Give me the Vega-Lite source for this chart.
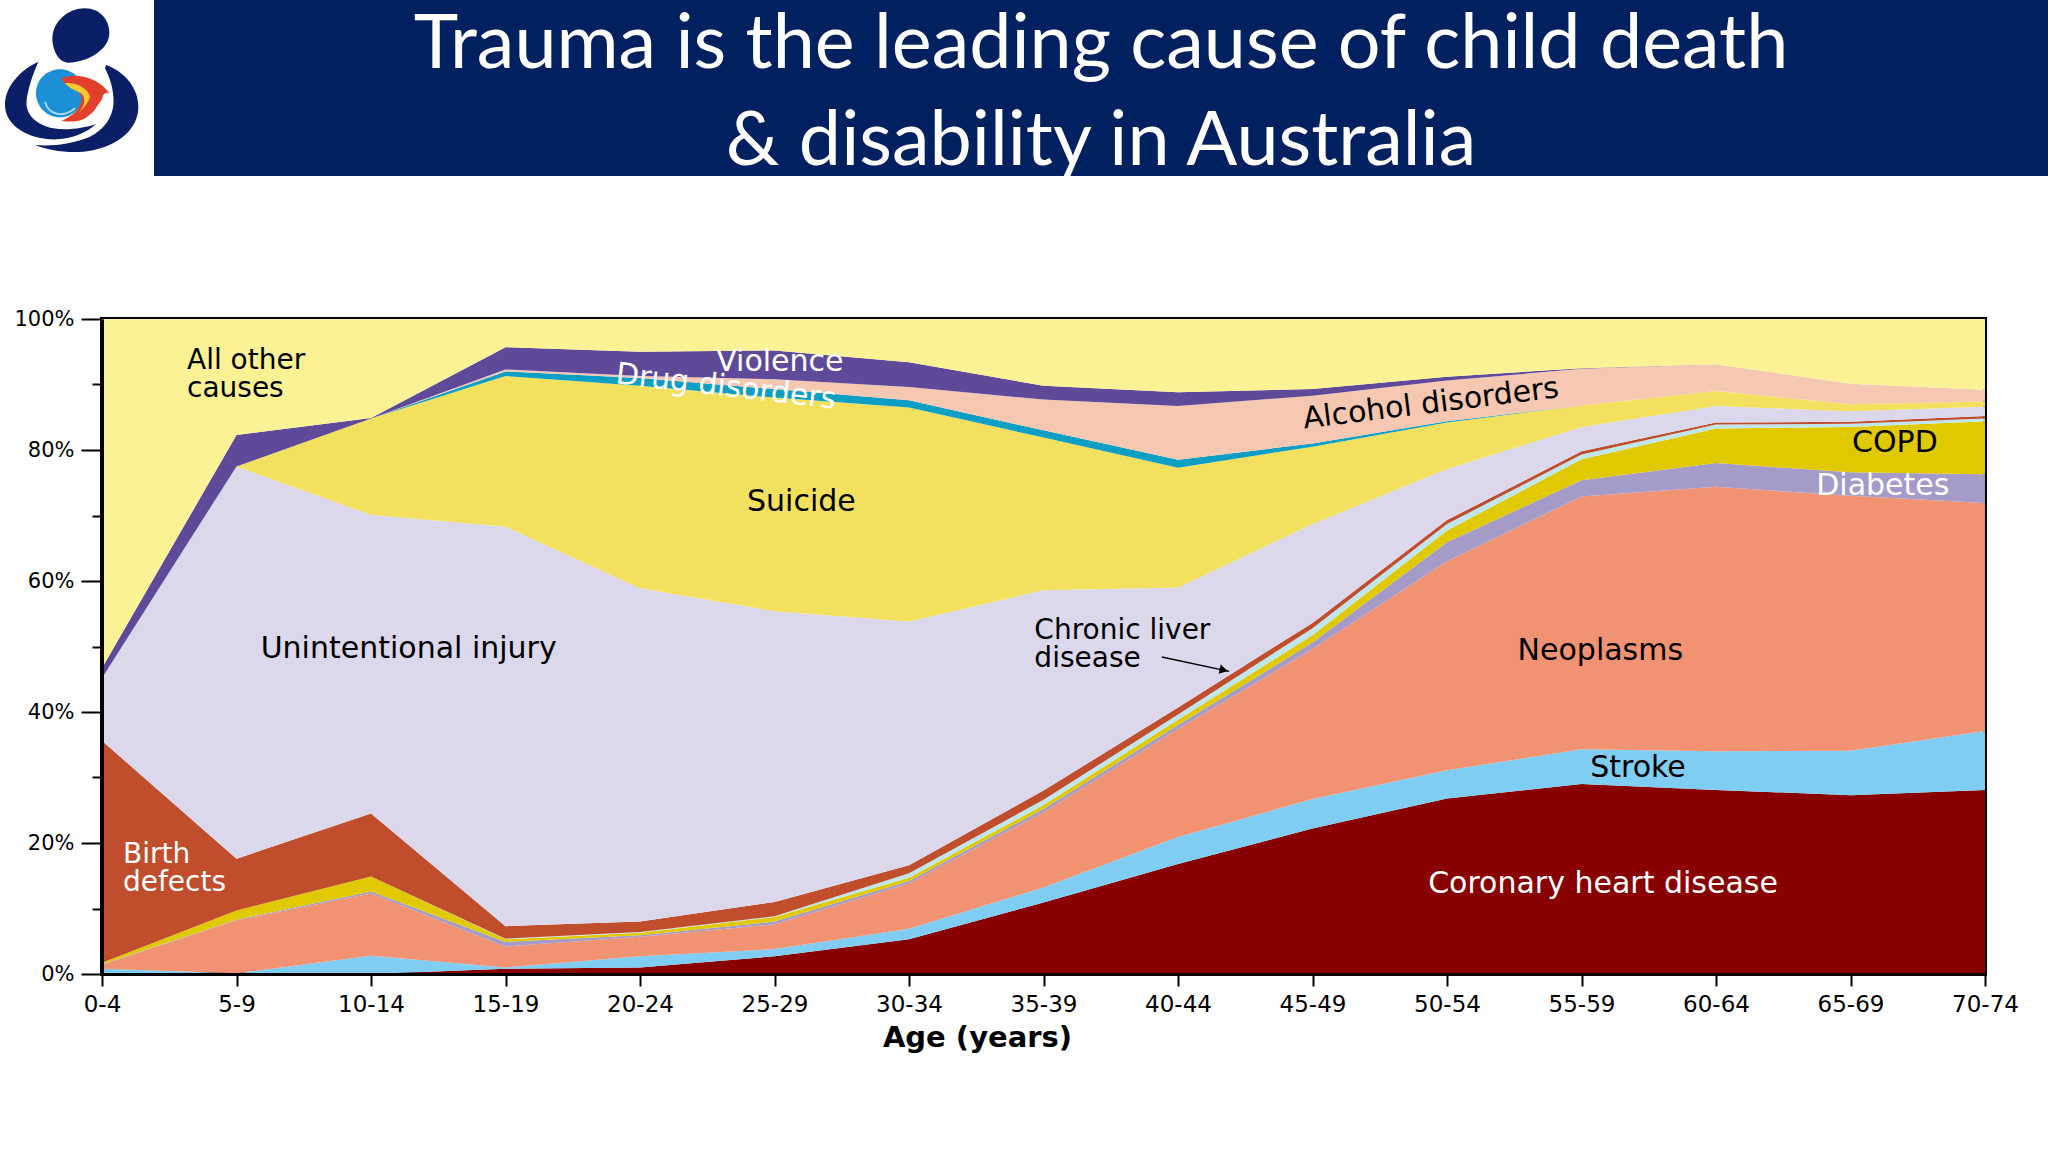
{
  "$schema": "https://vega.github.io/schema/vega-lite/v6.json",
  "padding": 0,
  "background": "white",
  "config": {"view": {"stroke": null}},
  "bounds": "flush",
  "spacing": 319,
  "vconcat": [
    {
      "bounds": "flush",
      "spacing": 0,
      "hconcat": [
        {
          "width": 154, "height": 176,
          "data": {"values": [{"part": "logo"}]},
          "layer": [
            {"mark": {"type": "point", "filled": true, "size": 23716, "opacity": 1, "color": "#0b1f66", "shape": "M.104 -1.035 C.299 -1.035 .42 -.883 .42 -.71 C.42 -.494 .126 -.329 -.113 -.329 C-.242 -.329 -.32 -.494 -.32 -.645 C-.32 -.861 -.113 -1.035 .104 -1.035Z"}},
            {"mark": {"type": "point", "filled": true, "size": 23716, "opacity": 1, "color": "#0b1f66", "shape": "M-.502 -.342 C-.74 -.234 -.935 -.017 -.935 .221 C-.935 .502 -.61 .675 -.264 .667 C-.048 .658 .147 .567 .247 .468 C.082 .524 -.134 .554 -.307 .524 C-.524 .481 -.675 .351 -.654 .156 C-.632 -.017 -.567 -.19 -.502 -.342Z"}},
            {"mark": {"type": "point", "filled": true, "size": 23716, "opacity": 1, "color": "#0b1f66", "shape": "M.377 -.299 C.623 -.212 .797 .004 .797 .242 C.797 .567 .472 .784 .082 .827 C-.134 .848 -.394 .805 -.545 .74 C-.307 .762 -.048 .719 .169 .632 C.385 .524 .494 .329 .472 .113 C.463 -.039 .407 -.169 .364 -.255Z"}},
            {"mark": {"type": "point", "filled": true, "size": 23716, "opacity": 1, "color": "#1d8fd6", "shape": "M-.533 .069 A.312 .312 0 1 1 .091 .069 A.312 .312 0 1 1 -.533 .069Z"}},
            {"mark": {"type": "point", "filled": false, "size": 23716, "opacity": 1, "color": "#a5dcf5", "strokeWidth": 2, "shape": "M-.416 .177 C-.372 .351 -.177 .394 -.026 .264"}},
            {"mark": {"type": "point", "filled": true, "size": 23716, "opacity": 1, "color": "#e2402b", "shape": "M-.199 -.126 C-.004 -.212 .299 -.126 .42 .069 C.342 .048 .342 .091 .32 .156 C.277 .199 .234 .307 .16 .351 C.082 .437 -.069 .45 -.199 .424 C-.069 .372 .061 .264 .061 .134 C.061 .004 -.156 .004 -.199 -.126Z"}},
            {"mark": {"type": "point", "filled": true, "size": 23716, "opacity": 1, "color": "#f7c92f", "shape": "M-.156 -.061 C-.026 -.082 .147 .004 .169 .113 C.147 .199 .061 .286 .017 .329 C.134 .199 .104 .091 .039 .061 C-.048 .026 -.113 -.009 -.156 -.061Z"}}
          ]
        },
        {
          "width": 1894, "height": 176,
          "view": {"fill": "#002060", "stroke": null},
          "data": {"values": [
            {"line": 1, "text": "Trauma is the leading cause of child death"},
            {"line": 2, "text": "& disability in Australia"}
          ]},
          "mark": {"type": "text", "font": "Lato", "fontSize": 75.5, "color": "white", "baseline": "middle", "align": "center"},
          "encoding": {
            "text": {"field": "text"},
            "y": {"field": "line", "type": "ordinal", "axis": null, "scale": {"type": "point", "padding": 0, "domain": [1, 2], "range": [45, 142]}}
          }
        }
      ]
    },
    {
      "bounds": "flush",
      "spacing": 0,
      "hconcat": [
        {"width": 102, "height": 655, "data": {"values": []}, "mark": "rect"},
        {
          "width": 1883, "height": 655,
          "view": {"stroke": "black", "strokeWidth": 4},
          "layer": [
            {
              "data": {"values": [
                {"age":0,"cause":"Coronary heart disease","rank":1,"share":0},{"age":5,"cause":"Coronary heart disease","rank":1,"share":0},{"age":10,"cause":"Coronary heart disease","rank":1,"share":0},{"age":15,"cause":"Coronary heart disease","rank":1,"share":0.8},{"age":20,"cause":"Coronary heart disease","rank":1,"share":1},{"age":25,"cause":"Coronary heart disease","rank":1,"share":2.7},{"age":30,"cause":"Coronary heart disease","rank":1,"share":5.3},{"age":35,"cause":"Coronary heart disease","rank":1,"share":10.9},{"age":40,"cause":"Coronary heart disease","rank":1,"share":16.8},{"age":45,"cause":"Coronary heart disease","rank":1,"share":22.2},{"age":50,"cause":"Coronary heart disease","rank":1,"share":26.8},{"age":55,"cause":"Coronary heart disease","rank":1,"share":29},{"age":60,"cause":"Coronary heart disease","rank":1,"share":28.1},{"age":65,"cause":"Coronary heart disease","rank":1,"share":27.3},{"age":70,"cause":"Coronary heart disease","rank":1,"share":28.1},
                {"age":0,"cause":"Stroke","rank":2,"share":0.8},{"age":5,"cause":"Stroke","rank":2,"share":0.1},{"age":10,"cause":"Stroke","rank":2,"share":2.8},{"age":15,"cause":"Stroke","rank":2,"share":0.2},{"age":20,"cause":"Stroke","rank":2,"share":1.7},{"age":25,"cause":"Stroke","rank":2,"share":1.1},{"age":30,"cause":"Stroke","rank":2,"share":1.6},{"age":35,"cause":"Stroke","rank":2,"share":2.3},{"age":40,"cause":"Stroke","rank":2,"share":4.1},{"age":45,"cause":"Stroke","rank":2,"share":4.5},{"age":50,"cause":"Stroke","rank":2,"share":4.3},{"age":55,"cause":"Stroke","rank":2,"share":5.3},{"age":60,"cause":"Stroke","rank":2,"share":5.9},{"age":65,"cause":"Stroke","rank":2,"share":6.8},{"age":70,"cause":"Stroke","rank":2,"share":9},
                {"age":0,"cause":"Neoplasms","rank":3,"share":0.6},{"age":5,"cause":"Neoplasms","rank":3,"share":8.1},{"age":10,"cause":"Neoplasms","rank":3,"share":9.5},{"age":15,"cause":"Neoplasms","rank":3,"share":3.2},{"age":20,"cause":"Neoplasms","rank":3,"share":3},{"age":25,"cause":"Neoplasms","rank":3,"share":3.8},{"age":30,"cause":"Neoplasms","rank":3,"share":6.9},{"age":35,"cause":"Neoplasms","rank":3,"share":11.5},{"age":40,"cause":"Neoplasms","rank":3,"share":16.5},{"age":45,"cause":"Neoplasms","rank":3,"share":22.9},{"age":50,"cause":"Neoplasms","rank":3,"share":31.9},{"age":55,"cause":"Neoplasms","rank":3,"share":38.6},{"age":60,"cause":"Neoplasms","rank":3,"share":40.4},{"age":65,"cause":"Neoplasms","rank":3,"share":38.9},{"age":70,"cause":"Neoplasms","rank":3,"share":34.8},
                {"age":0,"cause":"Diabetes","rank":4,"share":0.1},{"age":5,"cause":"Diabetes","rank":4,"share":0.1},{"age":10,"cause":"Diabetes","rank":4,"share":0.3},{"age":15,"cause":"Diabetes","rank":4,"share":0.7},{"age":20,"cause":"Diabetes","rank":4,"share":0.2},{"age":25,"cause":"Diabetes","rank":4,"share":0.4},{"age":30,"cause":"Diabetes","rank":4,"share":0.4},{"age":35,"cause":"Diabetes","rank":4,"share":0.5},{"age":40,"cause":"Diabetes","rank":4,"share":0.6},{"age":45,"cause":"Diabetes","rank":4,"share":1},{"age":50,"cause":"Diabetes","rank":4,"share":2.9},{"age":55,"cause":"Diabetes","rank":4,"share":2.5},{"age":60,"cause":"Diabetes","rank":4,"share":3.6},{"age":65,"cause":"Diabetes","rank":4,"share":3.6},{"age":70,"cause":"Diabetes","rank":4,"share":4.4},
                {"age":0,"cause":"COPD","rank":5,"share":0.2},{"age":5,"cause":"COPD","rank":5,"share":1.4},{"age":10,"cause":"COPD","rank":5,"share":2.3},{"age":15,"cause":"COPD","rank":5,"share":0.4},{"age":20,"cause":"COPD","rank":5,"share":0.4},{"age":25,"cause":"COPD","rank":5,"share":0.7},{"age":30,"cause":"COPD","rank":5,"share":0.5},{"age":35,"cause":"COPD","rank":5,"share":0.6},{"age":40,"cause":"COPD","rank":5,"share":0.8},{"age":45,"cause":"COPD","rank":5,"share":1.1},{"age":50,"cause":"COPD","rank":5,"share":1.8},{"age":55,"cause":"COPD","rank":5,"share":3.2},{"age":60,"cause":"COPD","rank":5,"share":5.3},{"age":65,"cause":"COPD","rank":5,"share":6.9},{"age":70,"cause":"COPD","rank":5,"share":8.1},
                {"age":0,"cause":"Chronic liver disease","rank":6,"share":0},{"age":5,"cause":"Chronic liver disease","rank":6,"share":0},{"age":10,"cause":"Chronic liver disease","rank":6,"share":0},{"age":15,"cause":"Chronic liver disease","rank":6,"share":0.1},{"age":20,"cause":"Chronic liver disease","rank":6,"share":0.1},{"age":25,"cause":"Chronic liver disease","rank":6,"share":0.1},{"age":30,"cause":"Chronic liver disease","rank":6,"share":0.7},{"age":35,"cause":"Chronic liver disease","rank":6,"share":0.8},{"age":40,"cause":"Chronic liver disease","rank":6,"share":0.8},{"age":45,"cause":"Chronic liver disease","rank":6,"share":1.1},{"age":50,"cause":"Chronic liver disease","rank":6,"share":1},{"age":55,"cause":"Chronic liver disease","rank":6,"share":0.7},{"age":60,"cause":"Chronic liver disease","rank":6,"share":0.6},{"age":65,"cause":"Chronic liver disease","rank":6,"share":0.5},{"age":70,"cause":"Chronic liver disease","rank":6,"share":0.4},
                {"age":0,"cause":"Birth defects","rank":7,"share":33.9},{"age":5,"cause":"Birth defects","rank":7,"share":7.9},{"age":10,"cause":"Birth defects","rank":7,"share":9.6},{"age":15,"cause":"Birth defects","rank":7,"share":1.9},{"age":20,"cause":"Birth defects","rank":7,"share":1.6},{"age":25,"cause":"Birth defects","rank":7,"share":2.2},{"age":30,"cause":"Birth defects","rank":7,"share":1.2},{"age":35,"cause":"Birth defects","rank":7,"share":1.4},{"age":40,"cause":"Birth defects","rank":7,"share":1.1},{"age":45,"cause":"Birth defects","rank":7,"share":0.8},{"age":50,"cause":"Birth defects","rank":7,"share":0.6},{"age":55,"cause":"Birth defects","rank":7,"share":0.5},{"age":60,"cause":"Birth defects","rank":7,"share":0.3},{"age":65,"cause":"Birth defects","rank":7,"share":0.3},{"age":70,"cause":"Birth defects","rank":7,"share":0.4},
                {"age":0,"cause":"Unintentional injury","rank":8,"share":9.6},{"age":5,"cause":"Unintentional injury","rank":8,"share":59.9},{"age":10,"cause":"Unintentional injury","rank":8,"share":45.6},{"age":15,"cause":"Unintentional injury","rank":8,"share":61},{"age":20,"cause":"Unintentional injury","rank":8,"share":50.9},{"age":25,"cause":"Unintentional injury","rank":8,"share":44.4},{"age":30,"cause":"Unintentional injury","rank":8,"share":37.2},{"age":35,"cause":"Unintentional injury","rank":8,"share":30.6},{"age":40,"cause":"Unintentional injury","rank":8,"share":18.3},{"age":45,"cause":"Unintentional injury","rank":8,"share":15.1},{"age":50,"cause":"Unintentional injury","rank":8,"share":7.8},{"age":55,"cause":"Unintentional injury","rank":8,"share":3.7},{"age":60,"cause":"Unintentional injury","rank":8,"share":2.5},{"age":65,"cause":"Unintentional injury","rank":8,"share":1.6},{"age":70,"cause":"Unintentional injury","rank":8,"share":1.4},
                {"age":0,"cause":"Suicide","rank":9,"share":0},{"age":5,"cause":"Suicide","rank":9,"share":0},{"age":10,"cause":"Suicide","rank":9,"share":14.7},{"age":15,"cause":"Suicide","rank":9,"share":23},{"age":20,"cause":"Suicide","rank":9,"share":30.9},{"age":25,"cause":"Suicide","rank":9,"share":32.6},{"age":30,"cause":"Suicide","rank":9,"share":32.7},{"age":35,"cause":"Suicide","rank":9,"share":23.3},{"age":40,"cause":"Suicide","rank":9,"share":18.3},{"age":45,"cause":"Suicide","rank":9,"share":11.8},{"age":50,"cause":"Suicide","rank":9,"share":7.1},{"age":55,"cause":"Suicide","rank":9,"share":3.3},{"age":60,"cause":"Suicide","rank":9,"share":2.3},{"age":65,"cause":"Suicide","rank":9,"share":1.1},{"age":70,"cause":"Suicide","rank":9,"share":0.8},
                {"age":0,"cause":"Drug disorders","rank":10,"share":0},{"age":5,"cause":"Drug disorders","rank":10,"share":0},{"age":10,"cause":"Drug disorders","rank":10,"share":0},{"age":15,"cause":"Drug disorders","rank":10,"share":0.7},{"age":20,"cause":"Drug disorders","rank":10,"share":1.2},{"age":25,"cause":"Drug disorders","rank":10,"share":1.3},{"age":30,"cause":"Drug disorders","rank":10,"share":1.1},{"age":35,"cause":"Drug disorders","rank":10,"share":1.1},{"age":40,"cause":"Drug disorders","rank":10,"share":1.2},{"age":45,"cause":"Drug disorders","rank":10,"share":0.5},{"age":50,"cause":"Drug disorders","rank":10,"share":0.2},{"age":55,"cause":"Drug disorders","rank":10,"share":0},{"age":60,"cause":"Drug disorders","rank":10,"share":0},{"age":65,"cause":"Drug disorders","rank":10,"share":0},{"age":70,"cause":"Drug disorders","rank":10,"share":0},
                {"age":0,"cause":"Alcohol disorders","rank":11,"share":0},{"age":5,"cause":"Alcohol disorders","rank":11,"share":0},{"age":10,"cause":"Alcohol disorders","rank":11,"share":0},{"age":15,"cause":"Alcohol disorders","rank":11,"share":0.3},{"age":20,"cause":"Alcohol disorders","rank":11,"share":0.3},{"age":25,"cause":"Alcohol disorders","rank":11,"share":1.5},{"age":30,"cause":"Alcohol disorders","rank":11,"share":2},{"age":35,"cause":"Alcohol disorders","rank":11,"share":4.7},{"age":40,"cause":"Alcohol disorders","rank":11,"share":8.2},{"age":45,"cause":"Alcohol disorders","rank":11,"share":7.3},{"age":50,"cause":"Alcohol disorders","rank":11,"share":6.2},{"age":55,"cause":"Alcohol disorders","rank":11,"share":5.6},{"age":60,"cause":"Alcohol disorders","rank":11,"share":4.1},{"age":65,"cause":"Alcohol disorders","rank":11,"share":3.1},{"age":70,"cause":"Alcohol disorders","rank":11,"share":1.8},
                {"age":0,"cause":"Violence","rank":12,"share":1.5},{"age":5,"cause":"Violence","rank":12,"share":4.8},{"age":10,"cause":"Violence","rank":12,"share":0.1},{"age":15,"cause":"Violence","rank":12,"share":3.4},{"age":20,"cause":"Violence","rank":12,"share":3.7},{"age":25,"cause":"Violence","rank":12,"share":4.4},{"age":30,"cause":"Violence","rank":12,"share":3.8},{"age":35,"cause":"Violence","rank":12,"share":2.1},{"age":40,"cause":"Violence","rank":12,"share":2.1},{"age":45,"cause":"Violence","rank":12,"share":1},{"age":50,"cause":"Violence","rank":12,"share":0.6},{"age":55,"cause":"Violence","rank":12,"share":0.1},{"age":60,"cause":"Violence","rank":12,"share":0},{"age":65,"cause":"Violence","rank":12,"share":0},{"age":70,"cause":"Violence","rank":12,"share":0},
                {"age":0,"cause":"All other causes","rank":13,"share":53.3},{"age":5,"cause":"All other causes","rank":13,"share":17.7},{"age":10,"cause":"All other causes","rank":13,"share":15.1},{"age":15,"cause":"All other causes","rank":13,"share":4.3},{"age":20,"cause":"All other causes","rank":13,"share":5},{"age":25,"cause":"All other causes","rank":13,"share":4.8},{"age":30,"cause":"All other causes","rank":13,"share":6.6},{"age":35,"cause":"All other causes","rank":13,"share":10.2},{"age":40,"cause":"All other causes","rank":13,"share":11.2},{"age":45,"cause":"All other causes","rank":13,"share":10.7},{"age":50,"cause":"All other causes","rank":13,"share":8.8},{"age":55,"cause":"All other causes","rank":13,"share":7.5},{"age":60,"cause":"All other causes","rank":13,"share":6.9},{"age":65,"cause":"All other causes","rank":13,"share":9.9},{"age":70,"cause":"All other causes","rank":13,"share":10.8}
              ]},
              "mark": {"type": "area", "interpolate": "linear", "opacity": 1},
              "encoding": {
                "x": {
                  "field": "age", "type": "quantitative",
                  "scale": {"domain": [0, 70], "nice": false, "zero": false},
                  "axis": {
                    "title": "Age (years)", "titleFont": "DejaVu Sans", "titleFontSize": 29, "titleFontWeight": "bold", "titleColor": "black",
                    "titleX": 875, "titleY": 63, "titleBaseline": "middle", "titleAlign": "center",
                    "values": [0,5,10,15,20,25,30,35,40,45,50,55,60,65,70],
                    "labelExpr": "datum.value + '-' + (datum.value + 4)",
                    "labelFont": "DejaVu Sans", "labelFontSize": 23, "labelColor": "black", "labelPadding": 7, "labelOverlap": false, "labelFlush": false, "labelAngle": 0,
                    "grid": false, "tickSize": 12, "tickWidth": 2, "tickColor": "black", "domainColor": "black", "domainWidth": 3, "zindex": 1
                  }
                },
                "y": {
                  "field": "share", "type": "quantitative", "stack": "zero",
                  "scale": {"domain": [0, 100], "nice": false},
                  "axis": {
                    "title": null,
                    "values": [0,10,20,30,40,50,60,70,80,90,100],
                    "labelExpr": "datum.value % 20 === 0 ? datum.value + '%' : ''",
                    "labelFont": "DejaVu Sans", "labelFontSize": 21, "labelColor": "black", "labelPadding": 7, "labelOverlap": false, "labelFlush": false,
                    "grid": false, "tickWidth": 2, "tickColor": "black", "domainColor": "black", "domainWidth": 3, "zindex": 1,
                    "tickSize": {"condition": {"test": "datum.value % 20 === 0", "value": 21}, "value": 10}
                  }
                },
                "color": {
                  "field": "cause", "type": "nominal", "legend": null,
                  "scale": {
                    "domain": ["Coronary heart disease","Stroke","Neoplasms","Diabetes","COPD","Chronic liver disease","Birth defects","Unintentional injury","Suicide","Drug disorders","Alcohol disorders","Violence","All other causes"],
                    "range": ["#880000","#7fcdf3","#f19272","#a59bc8","#e0c900","#bfe6ee","#c04d2b","#dcd8ec","#f2e05e","#0d9ec4","#f6c8b2","#5f4a9a","#fbf295"]
                  }
                },
                "order": {"field": "rank", "type": "quantitative"}
              }
            },
            {
              "data": {"values": [
                {"label": "Unintentional injury", "age": 11.4, "pct": 49.6},
                {"label": "Suicide", "age": 26, "pct": 72.1},
                {"label": "Neoplasms", "age": 55.7, "pct": 49.3},
                {"label": "Stroke", "age": 57.1, "pct": 31.4},
                {"label": "COPD", "age": 66.65, "pct": 81.1}
              ]},
              "mark": {"type": "text", "font": "DejaVu Sans", "fontSize": 30, "color": "black", "align": "center", "baseline": "middle"},
              "encoding": {
                "text": {"field": "label"},
                "x": {"field": "age", "type": "quantitative"},
                "y": {"field": "pct", "type": "quantitative"}
              }
            },
            {
              "data": {"values": [
                {"label": "Coronary heart disease", "age": 55.8, "pct": 13.7},
                {"label": "Diabetes", "age": 66.2, "pct": 74.5},
                {"label": "Violence", "age": 25.2, "pct": 93.4}
              ]},
              "mark": {"type": "text", "font": "DejaVu Sans", "fontSize": 30, "color": "white", "align": "center", "baseline": "middle"},
              "encoding": {
                "text": {"field": "label"},
                "x": {"field": "age", "type": "quantitative"},
                "y": {"field": "pct", "type": "quantitative"}
              }
            },
            {
              "data": {"values": [
                {"label": "All other\ncauses", "age": 3.16, "pct": 93.6},
                {"label": "Chronic liver\ndisease", "age": 34.66, "pct": 52.4}
              ]},
              "mark": {"type": "text", "font": "DejaVu Sans", "fontSize": 28, "color": "black", "align": "left", "baseline": "middle", "lineBreak": "\n", "lineHeight": 28},
              "encoding": {
                "text": {"field": "label"},
                "x": {"field": "age", "type": "quantitative"},
                "y": {"field": "pct", "type": "quantitative"}
              }
            },
            {
              "data": {"values": [{"label": "Birth\ndefects", "age": 0.78, "pct": 18.1}]},
              "mark": {"type": "text", "font": "DejaVu Sans", "fontSize": 28, "color": "white", "align": "left", "baseline": "middle", "lineBreak": "\n", "lineHeight": 28},
              "encoding": {
                "text": {"field": "label"},
                "x": {"field": "age", "type": "quantitative"},
                "y": {"field": "pct", "type": "quantitative"}
              }
            },
            {
              "data": {"values": [{"label": "Drug disorders", "age": 23.2, "pct": 89.6}]},
              "mark": {"type": "text", "font": "DejaVu Sans", "fontSize": 30, "color": "white", "align": "center", "baseline": "middle", "angle": 6.6},
              "encoding": {
                "text": {"field": "label"},
                "x": {"field": "age", "type": "quantitative"},
                "y": {"field": "pct", "type": "quantitative"}
              }
            },
            {
              "data": {"values": [{"label": "Alcohol disorders", "age": 49.4, "pct": 87.05}]},
              "mark": {"type": "text", "font": "DejaVu Sans", "fontSize": 30, "color": "black", "align": "center", "baseline": "middle", "angle": 353},
              "encoding": {
                "text": {"field": "label"},
                "x": {"field": "age", "type": "quantitative"},
                "y": {"field": "pct", "type": "quantitative"}
              }
            },
            {
              "data": {"values": [{"age": 39.4, "age2": 41.9, "pct": 48.4, "pct2": 46.2}]},
              "mark": {"type": "rule", "color": "black", "strokeWidth": 1.5},
              "encoding": {
                "x": {"field": "age", "type": "quantitative"},
                "x2": {"field": "age2"},
                "y": {"field": "pct", "type": "quantitative"},
                "y2": {"field": "pct2"}
              }
            },
            {
              "data": {"values": [{"age": 41.7, "pct": 46.4}]},
              "mark": {"type": "point", "shape": "triangle-right", "filled": true, "color": "black", "opacity": 1, "size": 90, "angle": 12},
              "encoding": {
                "x": {"field": "age", "type": "quantitative"},
                "y": {"field": "pct", "type": "quantitative"}
              }
            }
          ]
        }
      ]
    },
    {"width": 2048, "height": 514, "data": {"values": []}, "mark": "rect"}
  ]
}
